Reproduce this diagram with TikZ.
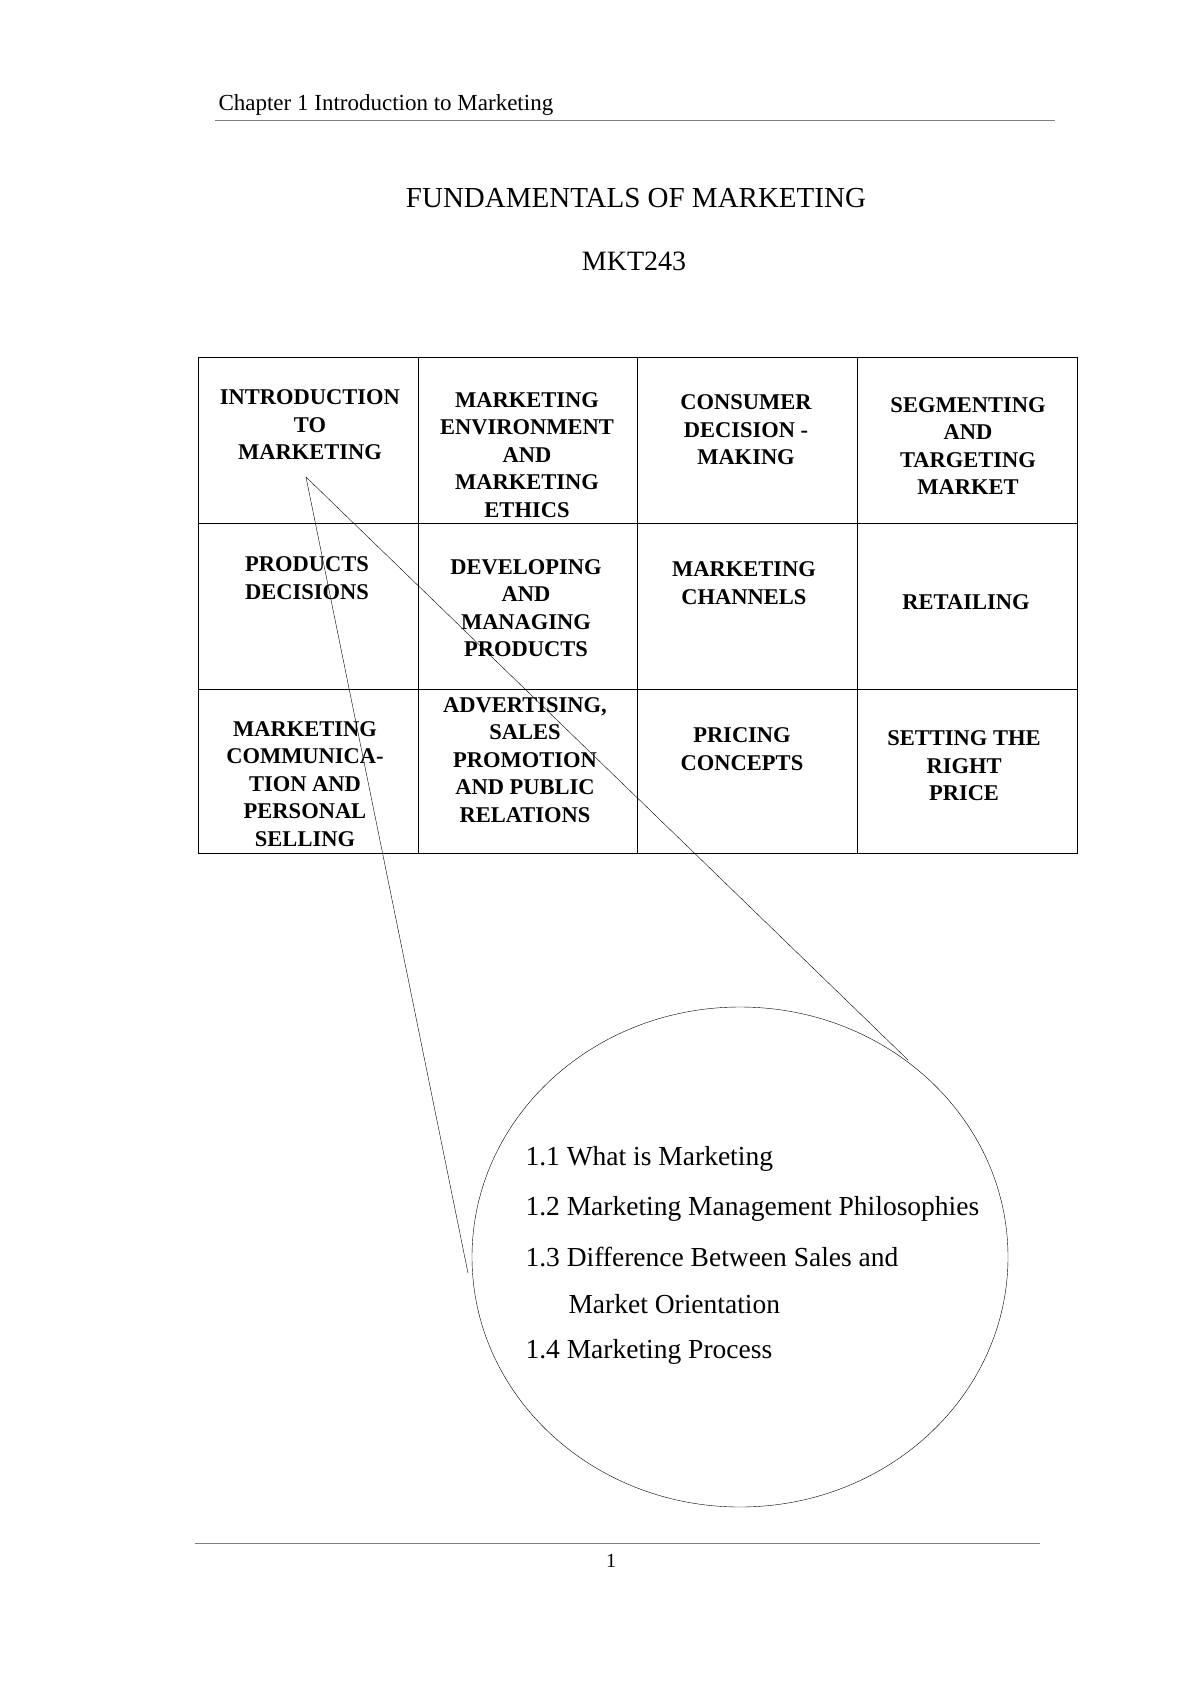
\documentclass[tikz,border=0pt]{standalone}
\usepackage{fontspec}
\setmainfont{Liberation Serif}
\begin{document}
\begin{tikzpicture}[x=1pt,y=1pt,yscale=-1,
  cell/.style={align=center,font=\fontsize{22.5}{27.5}\selectfont\bfseries},
  item/.style={anchor=west,font=\fontsize{27.5}{32}\selectfont}]
\useasboundingbox (0,0) rectangle (1200,1694);
% header
\node[anchor=west,font=\fontsize{23}{27}\selectfont] (chap) at (215,105) {Chapter 1 Introduction to Marketing};
\draw[gray] (215,120) -- (1055,120);
\node[font=\fontsize{29}{34}\selectfont] (title) at (636,198) {FUNDAMENTALS OF MARKETING};
\node[font=\fontsize{28}{32}\selectfont] (code) at (634,261) {MKT243};
% grid
\draw (198,357) rectangle (1077,853);
\foreach \x in {418,637,857} \draw (\x,357) -- (\x,853);
\foreach \y in {523,689} \draw (198,\y) -- (1077,\y);
\node[cell] (intro) at (310,425) {INTRODUCTION\\TO\\MARKETING};
\node[cell] (env) at (527,455) {MARKETING\\ENVIRONMENT\\AND\\MARKETING\\ETHICS};
\node[cell] (cons) at (746,430) {CONSUMER\\DECISION -\\MAKING};
\node[cell] (seg) at (968,446) {SEGMENTING\\AND\\TARGETING\\MARKET};
\node[cell] (prod) at (307,578) {PRODUCTS\\DECISIONS};
\node[cell] (dev) at (526,608) {DEVELOPING\\AND\\MANAGING\\PRODUCTS};
\node[cell] (chan) at (744,583) {MARKETING\\CHANNELS};
\node[cell] (ret) at (966,602) {RETAILING};
\node[cell] (com) at (305,784) {MARKETING\\COMMUNICA-\\TION AND\\PERSONAL\\SELLING};
\node[cell] (adv) at (525,760) {ADVERTISING,\\SALES\\PROMOTION\\AND PUBLIC\\RELATIONS};
\node[cell] (price) at (742,749) {PRICING\\CONCEPTS};
\node[cell] (set) at (964,766) {SETTING THE\\RIGHT\\PRICE};
% callout
\coordinate (apex) at (306,477);
\draw (740,1257) ellipse (268 and 250);
\coordinate (tl) at (468,1273);
\coordinate (tr) at (908,1060);
\draw (apex) -- (tl);
\draw (apex) -- (tr);
\node[item] (i1) at (522,1159) {1.1 What is Marketing};
\node[item] (i2) at (522,1209) {1.2 Marketing Management Philosophies};
\node[item] (i3) at (522,1257) {1.3 Difference Between Sales and};
\node[item] (i3b) at (565,1304) {Market Orientation};
\node[item] (i4) at (522,1352) {1.4 Marketing Process};
% footer
\draw[gray] (195,1543) -- (1040,1543);
\node[font=\fontsize{20}{24}\selectfont] (page) at (611,1561) {1};
\end{tikzpicture}
\end{document}
